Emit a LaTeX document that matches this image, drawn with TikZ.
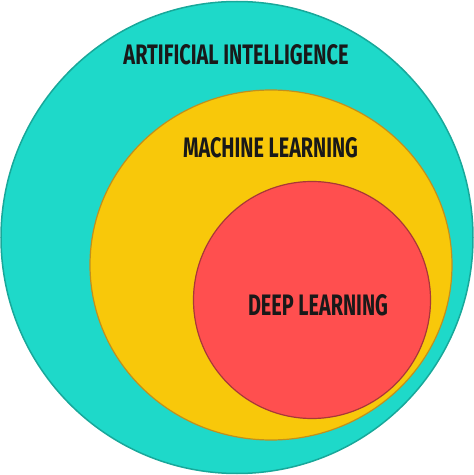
\documentclass[tikz,border=0pt]{standalone}
\usepackage{fontspec}
\newfontfamily\ringfont{Fira Sans}
\definecolor{aiteal}{HTML}{1ED9C9}
\definecolor{aiedge}{HTML}{18A89A}
\definecolor{mlyellow}{HTML}{F8C80A}
\definecolor{mledge}{HTML}{C0901E}
\definecolor{dlred}{HTML}{FF4F4F}
\definecolor{dledge}{HTML}{A83838}
\newcommand{\ringlabel}[3]{\resizebox{#1pt}{#2pt}{\ringfont\bfseries #3}}
\begin{document}
\begin{tikzpicture}[x=1pt,y=1pt]
    \useasboundingbox (0,0) rectangle (474,475);
    \fill[aiteal, draw=aiedge, line width=1.5] (237,237.5) circle (236);
    \fill[mlyellow, draw=mledge, line width=1.2] (271,210) ellipse (181 and 175);
    \fill[dlred, draw=dledge, line width=1.2] (312,175) circle (118.5);
    \node[inner sep=0, text=black!90] (ai) at (236,420) {\ringlabel{225}{20}{ARTIFICIAL INTELLIGENCE}};
    \node[inner sep=0, text=black!90] (ml) at (270.5,327) {\ringlabel{175}{20}{MACHINE LEARNING}};
    \node[inner sep=0, text=black!90] (dl) at (318,169.5) {\ringlabel{140}{21}{DEEP LEARNING}};
\end{tikzpicture}
\end{document}
